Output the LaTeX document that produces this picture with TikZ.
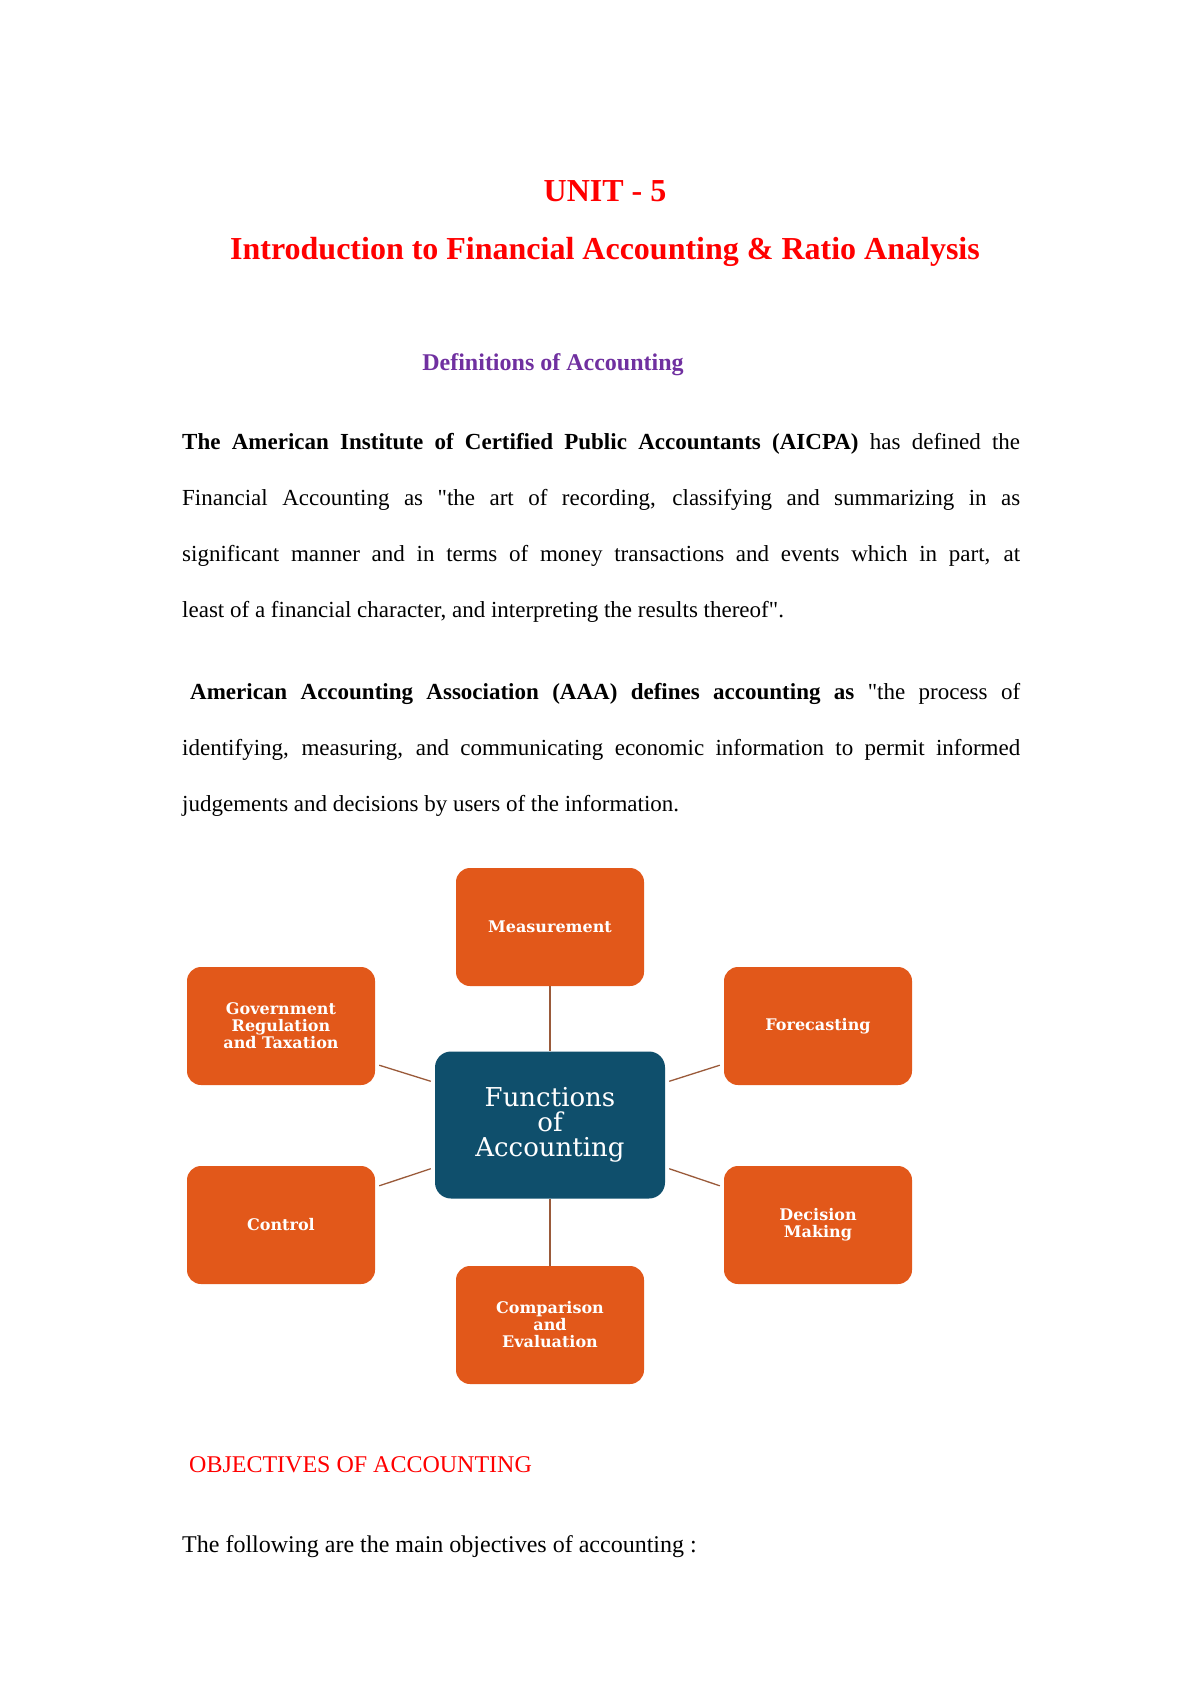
\documentclass[tikz,border=0pt]{standalone}
\usepackage{fontspec}
\setmainfont{Liberation Serif}
\newfontfamily\slab{DejaVu Serif}
\newfontfamily\qfont{Liberation Serif}
\usetikzlibrary{calc}
\definecolor{orng}{HTML}{E2581A}
\definecolor{navy}{HTML}{0F4F6C}
\definecolor{purp}{HTML}{7030A0}
\definecolor{conn}{HTML}{9A5A3A}
\newcommand{\qq}{{\qfont\mdseries"}}
\begin{document}
\begin{tikzpicture}[x=1pt,y=-1pt,
  obox/.style={fill=orng,rounded corners=14pt,minimum width=188pt,minimum height=118pt,text=white,font=\slab\bfseries\fontsize{16}{17}\selectfont,align=center,inner sep=2pt},
  cbox/.style={fill=navy,rounded corners=16pt,minimum width=230pt,minimum height=147pt,text=white,font=\slab\fontsize{26}{25}\selectfont,align=center},
  link/.style={draw=conn,line width=1.3pt},
  para/.style={anchor=north west,text width=838pt,align=justify,inner sep=0pt,font=\fontsize{23}{56}\selectfont}]
\fill[white] (0,0) rectangle (1200,1696);
\node (unit) at (605,191) {\textcolor{red}{\bfseries\fontsize{32}{33}\selectfont UNIT - 5}};
\node (title) at (605,252) {\textcolor{red}{\bfseries\fontsize{32}{33}\selectfont Introduction to Financial Accounting \& Ratio Analysis}};
\node (defs) at (553,365) {\textcolor{purp}{\bfseries\fontsize{24}{25}\selectfont Definitions of Accounting}};
\node[para] (p1) at (182,433) {\textbf{The American Institute of Certified Public Accountants (AICPA)} has defined the\linebreak Financial Accounting as \qq the art of recording, classifying and summarizing in as\linebreak significant manner and in terms of money transactions and events which in part, at\linebreak least of a financial character, and interpreting the results thereof\qq.};
\node[para] (p2) at (182,683) {\hspace{8pt}\textbf{American Accounting Association (AAA) defines accounting as} \qq the process of\linebreak identifying, measuring, and communicating economic information to permit informed\linebreak judgements and decisions by users of the information.};
\node[cbox] (c) at (550,1125) {Functions\\of\\Accounting};
\node[obox] (m) at (550,927) {Measurement};
\node[obox] (g) at (281,1026) {Government\\Regulation\\and Taxation};
\node[obox] (f) at (818,1026) {Forecasting};
\node[obox] (k) at (281,1225) {Control};
\node[obox] (d) at (818,1225) {Decision\\Making};
\node[obox] (e) at (550,1325) {Comparison\\and\\Evaluation};
\draw[link] (m.south) -- (c.north);
\draw[link] (c.south) -- (e.north);
\draw[link] ($(g.south east)+(4,-20)$) -- ($(c.north west)+(-4,30)$);
\draw[link] ($(f.south west)+(-4,-20)$) -- ($(c.north east)+(4,30)$);
\draw[link] ($(k.north east)+(4,20)$) -- ($(c.south west)+(-4,-30)$);
\draw[link] ($(d.north west)+(-4,20)$) -- ($(c.south east)+(4,-30)$);
\node[anchor=west,inner sep=0pt] (obj) at (189,1465) {\textcolor{red}{\fontsize{24}{25}\selectfont OBJECTIVES OF ACCOUNTING}};
\node[anchor=west,inner sep=0pt] (fol) at (182,1547) {\fontsize{24}{25}\selectfont The following are the main objectives of accounting :};
\end{tikzpicture}
\end{document}
